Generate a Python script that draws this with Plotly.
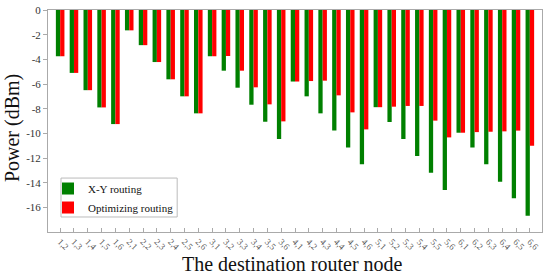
import plotly.graph_objects as go

categories = ["1,2","1,3","1,4","1,5","1,6","2,1","2,2","2,3","2,4","2,5","2,6",
              "3,1","3,2","3,3","3,4","3,5","3,6","4,1","4,2","4,3","4,4","4,5","4,6",
              "5,1","5,2","5,3","5,4","5,5","5,6","6,1","6,2","6,3","6,4","6,5","6,6"]
xy_routing = [-3.75,-5.1,-6.5,-7.9,-9.25,-1.65,-2.85,-4.22,-5.62,-7.0,-8.38,
              -3.75,-4.92,-6.3,-7.68,-9.06,-10.45,-5.8,-7.0,-8.38,-9.77,-11.14,-12.5,
              -7.88,-9.08,-10.46,-11.84,-13.2,-14.6,-9.95,-11.14,-12.5,-13.92,-15.27,-16.68]
opt_routing = [-3.75,-5.1,-6.5,-7.9,-9.25,-1.65,-2.85,-4.22,-5.62,-7.0,-8.38,
               -3.75,-3.73,-4.92,-6.27,-7.65,-9.03,-5.8,-5.76,-5.73,-6.92,-8.3,-9.68,
               -7.88,-7.84,-7.78,-7.78,-8.97,-10.33,-9.95,-9.9,-9.87,-9.84,-9.78,-11.0]
y_ticks = [0,-2,-4,-6,-8,-10,-12,-14,-16]

idx = list(range(len(categories)))
font_family = "Liberation Serif, Times New Roman, serif"

fig = go.Figure()
fig.add_trace(go.Bar(x=idx, y=xy_routing, name="X-Y routing", marker_color="#008000",
                     marker_line_width=0))
fig.add_trace(go.Bar(x=idx, y=opt_routing, name="Optimizing routing", marker_color="#FF0000",
                     marker_line_width=0))

fig.update_layout(
    width=550, height=277,
    margin=dict(l=48, r=8, t=10, b=45, autoexpand=False),
    paper_bgcolor="white", plot_bgcolor="white",
    barmode="group", bargap=0.38, bargroupgap=0,
    font=dict(family=font_family, color="#222"),
    showlegend=True,
    legend=dict(x=0.0, y=0.045, xanchor="left", yanchor="bottom",
                borderwidth=0, bgcolor="rgba(0,0,0,0)",
                font=dict(size=11, family=font_family, color="#111"),
                tracegroupgap=0, itemwidth=30),
    shapes=[dict(type="rect", xref="paper", yref="paper",
                 x0=0.0263, x1=0.2615, y0=0.0676, y1=0.243,
                 line=dict(color="#BBBBBB", width=1), fillcolor="white", layer="above")],
    xaxis=dict(range=[-0.88, 34.88], tickmode="array", tickvals=idx, ticktext=categories,
               tickangle=45, tickfont=dict(size=9, color="#555", family=font_family),
               showline=True, linecolor="#AAAAAA", linewidth=1, mirror=True,
               ticks="inside", ticklen=4, tickcolor="#AAAAAA", showgrid=False, zeroline=False,
               automargin=False),
    yaxis=dict(range=[-18, 0], tickmode="array", tickvals=y_ticks,
               ticktext=[str(v) for v in y_ticks],
               tickfont=dict(size=11, color="#333", family=font_family),
               showline=True, linecolor="#AAAAAA", linewidth=1, mirror=True,
               ticks="outside", ticklen=4, tickcolor="#AAAAAA", showgrid=False, zeroline=False,
               automargin=False),
    yaxis2=dict(range=[-18, 0], overlaying="y", side="right", tickmode="array",
                tickvals=y_ticks, showticklabels=False, ticks="inside", ticklen=4,
                tickcolor="#AAAAAA", showgrid=False, zeroline=False, showline=False,
                automargin=False),
    annotations=[
        dict(text="The destination router node", xref="paper", yref="paper",
             x=0.495, y=-0.144, xanchor="center", yanchor="middle", showarrow=False,
             font=dict(size=20, color="#111", family=font_family)),
        dict(text="Power (dBm)", xref="paper", yref="paper", x=-0.072, y=0.47,
             xanchor="center", yanchor="middle", textangle=-90, showarrow=False,
             font=dict(size=20, color="#111", family=font_family)),
    ],
)

fig.write_html("out.html", config={"displayModeBar": False},
               post_script="document.body.style.margin='0';")
